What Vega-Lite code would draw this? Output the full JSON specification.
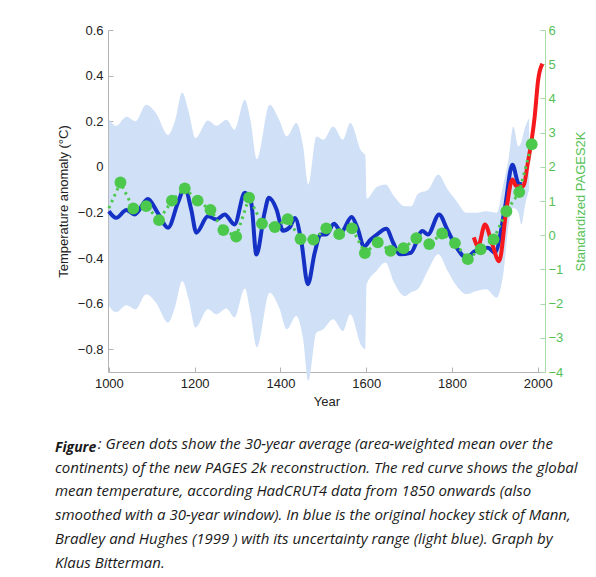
{
  "$schema": "https://vega.github.io/schema/vega-lite/v6.json",
  "width": 437,
  "height": 342,
  "autosize": {"type": "none"},
  "padding": {"left": 108, "top": 30, "right": 51, "bottom": 205},
  "background": "white",
  "config": {
    "view": {"stroke": null},
    "font": "Liberation Sans",
    "axis": {
      "grid": false,
      "labelFlush": false,
      "labelFont": "Liberation Sans",
      "labelFontSize": 13,
      "titleFont": "Liberation Sans",
      "titleFontSize": 13,
      "titleFontWeight": "normal",
      "labelColor": "#222222",
      "titleColor": "#222222",
      "domainColor": "#b3b3b3",
      "tickColor": "#b3b3b3",
      "tickSize": -5,
      "labelPadding": 10
    },
    "title": {
      "orient": "bottom",
      "anchor": "start",
      "frame": "group",
      "align": "left",
      "dx": -53,
      "offset": 33,
      "font": "Open Sans",
      "fontSize": 14,
      "fontStyle": "italic",
      "fontWeight": "bold",
      "color": "#1a1a1a",
      "lineHeight": 23.7,
      "subtitleFont": "Open Sans",
      "subtitleFontSize": 15,
      "subtitleFontStyle": "italic",
      "subtitleFontWeight": "normal",
      "subtitleColor": "#1a1a1a",
      "subtitleLineHeight": 23.7,
      "subtitlePadding": -18
    }
  },
  "title": {
    "text": "Figure",
    "subtitle": [
      "\u200b\u00a0\u00a0\u00a0\u00a0\u00a0\u00a0\u00a0\u00a0\u00a0\u00a0\u00a0: Green dots show the 30-year average (area-weighted mean over the",
      "continents) of the new PAGES 2k reconstruction. The red curve shows the global",
      "mean temperature, according HadCRUT4 data from 1850 onwards (also",
      "smoothed with a 30-year window). In blue is the original hockey stick of Mann,",
      "Bradley and Hughes (1999 ) with its uncertainty range (light blue). Graph by",
      "Klaus Bitterman."
    ]
  },
  "datasets": {
    "band": [
      {"year": 1000, "hi": 0.21, "lo": -0.61},
      {"year": 1017, "hi": 0.18, "lo": -0.637},
      {"year": 1041, "hi": 0.22, "lo": -0.607},
      {"year": 1062, "hi": 0.2, "lo": -0.625},
      {"year": 1087, "hi": 0.272, "lo": -0.559},
      {"year": 1110, "hi": 0.235, "lo": -0.596},
      {"year": 1138, "hi": 0.14, "lo": -0.683},
      {"year": 1155, "hi": 0.206, "lo": -0.61},
      {"year": 1171, "hi": 0.326, "lo": -0.501},
      {"year": 1186, "hi": 0.243, "lo": -0.581},
      {"year": 1202, "hi": 0.126, "lo": -0.705},
      {"year": 1231, "hi": 0.203, "lo": -0.625},
      {"year": 1251, "hi": 0.18, "lo": -0.647},
      {"year": 1274, "hi": 0.206, "lo": -0.622},
      {"year": 1293, "hi": 0.163, "lo": -0.661},
      {"year": 1317, "hi": 0.294, "lo": -0.534},
      {"year": 1330, "hi": 0.206, "lo": -0.639},
      {"year": 1345, "hi": 0.034, "lo": -0.792},
      {"year": 1375, "hi": 0.272, "lo": -0.552},
      {"year": 1397, "hi": 0.206, "lo": -0.617},
      {"year": 1415, "hi": 0.133, "lo": -0.712},
      {"year": 1437, "hi": 0.192, "lo": -0.654},
      {"year": 1453, "hi": 0.09, "lo": -0.756},
      {"year": 1465, "hi": -0.078, "lo": -0.938},
      {"year": 1484, "hi": 0.133, "lo": -0.727},
      {"year": 1500, "hi": 0.119, "lo": -0.712},
      {"year": 1523, "hi": 0.177, "lo": -0.669},
      {"year": 1546, "hi": 0.119, "lo": -0.72},
      {"year": 1563, "hi": 0.192, "lo": -0.647},
      {"year": 1589, "hi": 0.068, "lo": -0.785},
      {"year": 1598, "hi": 0.05, "lo": -0.8},
      {"year": 1601, "hi": -0.14, "lo": -0.515},
      {"year": 1624, "hi": -0.09, "lo": -0.457},
      {"year": 1645, "hi": -0.078, "lo": -0.42},
      {"year": 1665, "hi": -0.129, "lo": -0.508},
      {"year": 1690, "hi": -0.173, "lo": -0.567},
      {"year": 1705, "hi": -0.173, "lo": -0.55},
      {"year": 1720, "hi": -0.12, "lo": -0.537},
      {"year": 1745, "hi": -0.1, "lo": -0.45},
      {"year": 1768, "hi": -0.034, "lo": -0.384},
      {"year": 1790, "hi": -0.1, "lo": -0.457},
      {"year": 1811, "hi": -0.151, "lo": -0.523},
      {"year": 1834, "hi": -0.202, "lo": -0.559},
      {"year": 1857, "hi": -0.202, "lo": -0.545},
      {"year": 1880, "hi": -0.195, "lo": -0.537},
      {"year": 1904, "hi": -0.202, "lo": -0.574},
      {"year": 1919, "hi": -0.085, "lo": -0.479},
      {"year": 1933, "hi": 0.046, "lo": -0.246},
      {"year": 1943, "hi": 0.177, "lo": -0.18},
      {"year": 1955, "hi": 0.09, "lo": -0.2},
      {"year": 1962, "hi": 0.11, "lo": -0.253},
      {"year": 1970, "hi": 0.17, "lo": -0.173},
      {"year": 1980, "hi": 0.214, "lo": -0.1}
    ],
    "mann": [
      {"year": 1000, "t": -0.195},
      {"year": 1017, "t": -0.224},
      {"year": 1041, "t": -0.19},
      {"year": 1060, "t": -0.209},
      {"year": 1091, "t": -0.141},
      {"year": 1114, "t": -0.202},
      {"year": 1138, "t": -0.267},
      {"year": 1161, "t": -0.158},
      {"year": 1177, "t": -0.093},
      {"year": 1192, "t": -0.187},
      {"year": 1204, "t": -0.289},
      {"year": 1231, "t": -0.217},
      {"year": 1251, "t": -0.231},
      {"year": 1270, "t": -0.209},
      {"year": 1293, "t": -0.253},
      {"year": 1317, "t": -0.114},
      {"year": 1332, "t": -0.158},
      {"year": 1344, "t": -0.385},
      {"year": 1363, "t": -0.202},
      {"year": 1373, "t": -0.136},
      {"year": 1391, "t": -0.187},
      {"year": 1406, "t": -0.28},
      {"year": 1422, "t": -0.265},
      {"year": 1434, "t": -0.225},
      {"year": 1449, "t": -0.33},
      {"year": 1464, "t": -0.515},
      {"year": 1480, "t": -0.377},
      {"year": 1494, "t": -0.297},
      {"year": 1507, "t": -0.297},
      {"year": 1525, "t": -0.25},
      {"year": 1542, "t": -0.285},
      {"year": 1566, "t": -0.22},
      {"year": 1580, "t": -0.27},
      {"year": 1595, "t": -0.35},
      {"year": 1610, "t": -0.32},
      {"year": 1625, "t": -0.297},
      {"year": 1647, "t": -0.272},
      {"year": 1663, "t": -0.333},
      {"year": 1678, "t": -0.384},
      {"year": 1704, "t": -0.377},
      {"year": 1731, "t": -0.282},
      {"year": 1744, "t": -0.297},
      {"year": 1770, "t": -0.209},
      {"year": 1789, "t": -0.275},
      {"year": 1811, "t": -0.355},
      {"year": 1834, "t": -0.399},
      {"year": 1853, "t": -0.37},
      {"year": 1884, "t": -0.355},
      {"year": 1900, "t": -0.377},
      {"year": 1923, "t": -0.187},
      {"year": 1941, "t": 0.009},
      {"year": 1956, "t": -0.075},
      {"year": 1963, "t": -0.075}
    ],
    "hadcrut": [
      {"year": 1851, "t": -0.31},
      {"year": 1861, "t": -0.348},
      {"year": 1877, "t": -0.253},
      {"year": 1893, "t": -0.333},
      {"year": 1910, "t": -0.414},
      {"year": 1927, "t": -0.187},
      {"year": 1941, "t": -0.056},
      {"year": 1950, "t": -0.085},
      {"year": 1966, "t": -0.085},
      {"year": 1977, "t": 0.017},
      {"year": 1993, "t": 0.221},
      {"year": 2001, "t": 0.381},
      {"year": 2011, "t": 0.452}
    ],
    "pages2k": [
      {"year": 1000, "z": 0.79},
      {"year": 1027, "z": 1.54},
      {"year": 1057, "z": 0.78},
      {"year": 1087, "z": 0.85},
      {"year": 1117, "z": 0.44},
      {"year": 1147, "z": 1.01},
      {"year": 1177, "z": 1.37},
      {"year": 1207, "z": 1.01},
      {"year": 1237, "z": 0.74},
      {"year": 1267, "z": 0.15},
      {"year": 1297, "z": -0.04},
      {"year": 1327, "z": 1.1},
      {"year": 1357, "z": 0.34},
      {"year": 1387, "z": 0.24},
      {"year": 1417, "z": 0.47},
      {"year": 1447, "z": -0.11},
      {"year": 1477, "z": -0.13},
      {"year": 1507, "z": 0.2},
      {"year": 1537, "z": 0.03},
      {"year": 1567, "z": 0.2},
      {"year": 1597, "z": -0.52},
      {"year": 1627, "z": -0.21},
      {"year": 1657, "z": -0.46},
      {"year": 1687, "z": -0.38},
      {"year": 1717, "z": -0.09},
      {"year": 1747, "z": -0.26},
      {"year": 1777, "z": 0.05},
      {"year": 1807, "z": -0.23},
      {"year": 1837, "z": -0.7},
      {"year": 1867, "z": -0.41},
      {"year": 1897, "z": -0.12},
      {"year": 1927, "z": 0.7},
      {"year": 1957, "z": 1.26},
      {"year": 1986, "z": 2.66}
    ]
  },
  "layer": [
    {
      "layer": [
        {
          "data": {"name": "band"},
          "mark": {"type": "area", "color": "#cfe0f7", "interpolate": "monotone", "opacity": 1},
          "encoding": {
            "x": {"field": "year", "type": "quantitative", "scale": {"domain": [998, 2017], "nice": false, "zero": false}, "axis": {"title": "Year", "values": [1000, 1200, 1400, 1600, 1800, 2000], "format": "d", "titlePadding": 5}},
            "y": {"field": "hi", "type": "quantitative", "scale": {"domain": [-0.9, 0.6], "nice": false, "zero": false}, "axis": {"title": "Temperature anomaly (°C)", "values": [-0.8, -0.6, -0.4, -0.2, 0, 0.2, 0.4, 0.6], "format": ".1~f", "titlePadding": 7}},
            "y2": {"field": "lo"}
          }
        },
        {
          "data": {"name": "mann"},
          "mark": {"type": "line", "color": "#1530c4", "strokeWidth": 4, "interpolate": "monotone"},
          "encoding": {
            "x": {"field": "year", "type": "quantitative", "scale": {"domain": [998, 2017], "nice": false, "zero": false}, "axis": {"title": "Year", "values": [1000, 1200, 1400, 1600, 1800, 2000], "format": "d", "titlePadding": 5}},
            "y": {"field": "t", "type": "quantitative", "scale": {"domain": [-0.9, 0.6], "nice": false, "zero": false}, "axis": {"title": "Temperature anomaly (°C)", "values": [-0.8, -0.6, -0.4, -0.2, 0, 0.2, 0.4, 0.6], "format": ".1~f", "titlePadding": 7}}
          }
        },
        {
          "data": {"name": "hadcrut"},
          "mark": {"type": "line", "color": "#f5191d", "strokeWidth": 4, "interpolate": "monotone"},
          "encoding": {
            "x": {"field": "year", "type": "quantitative", "scale": {"domain": [998, 2017], "nice": false, "zero": false}, "axis": {"title": "Year", "values": [1000, 1200, 1400, 1600, 1800, 2000], "format": "d", "titlePadding": 5}},
            "y": {"field": "t", "type": "quantitative", "scale": {"domain": [-0.9, 0.6], "nice": false, "zero": false}, "axis": {"title": "Temperature anomaly (°C)", "values": [-0.8, -0.6, -0.4, -0.2, 0, 0.2, 0.4, 0.6], "format": ".1~f", "titlePadding": 7}}
          }
        }
      ]
    },
    {
      "data": {"name": "pages2k"},
      "encoding": {
        "x": {"field": "year", "type": "quantitative", "scale": {"domain": [998, 2017], "nice": false, "zero": false}, "axis": {"title": "Year", "values": [1000, 1200, 1400, 1600, 1800, 2000], "format": "d", "titlePadding": 5}},
        "y": {"field": "z", "type": "quantitative", "scale": {"domain": [-4, 6], "nice": false, "zero": false},
          "axis": {"orient": "right", "title": "Standardized PAGES2K", "values": [-4, -3, -2, -1, 0, 1, 2, 3, 4, 5, 6], "format": "d",
            "domainColor": "#a9dca9", "tickColor": "#a9dca9", "labelColor": "#55c155", "titleColor": "#55c155", "labelPadding": 8, "titleAngle": 270, "titleBaseline": "top", "titlePadding": 12}}
      },
      "layer": [
        {"mark": {"type": "line", "color": "#4cc84c", "strokeWidth": 3, "strokeDash": [2.5, 4]}},
        {"transform": [{"filter": "datum.year > 1005"}], "mark": {"type": "circle", "color": "#4cc84c", "opacity": 1, "size": 140}}
      ]
    }
  ],
  "resolve": {"scale": {"y": "independent"}}
}
